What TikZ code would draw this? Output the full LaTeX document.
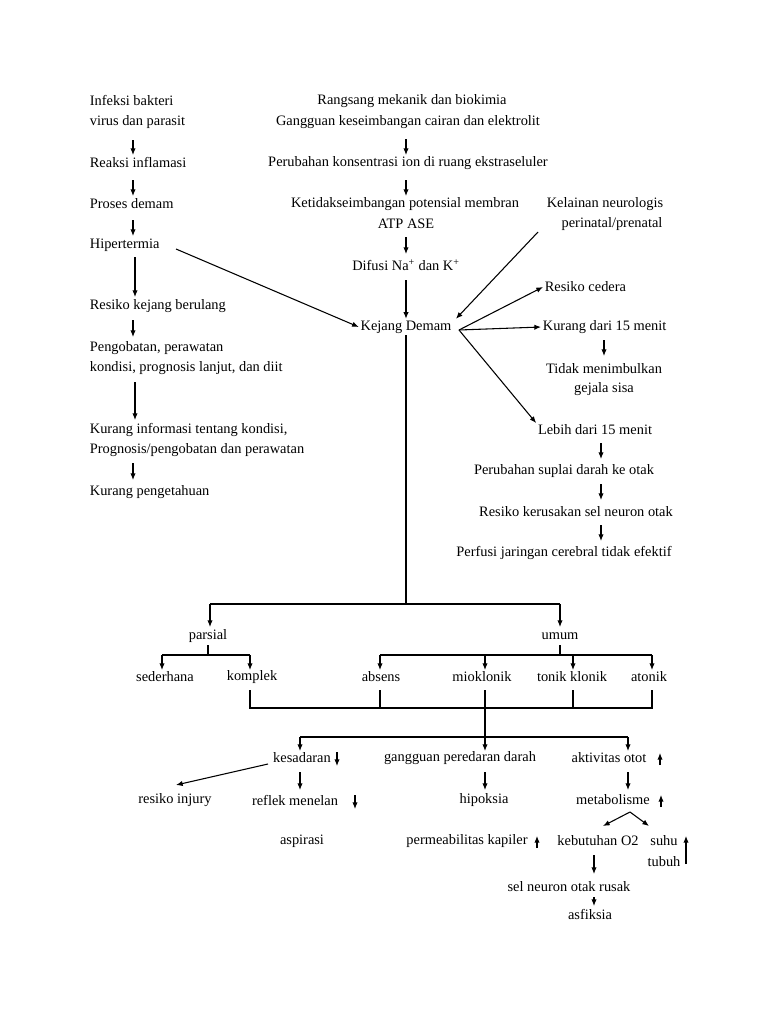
\documentclass[tikz,border=0pt]{standalone}
\usepackage{fontspec}
\setmainfont{Liberation Serif}
\usetikzlibrary{arrows.meta}

\begin{document}
\begin{tikzpicture}[x=0.75pt, y=-0.75pt, line width=0.8pt,
    txt/.style={inner sep=1pt, font=\fontsize{10.8}{13}\selectfont},
    lt/.style={txt, anchor=west},
    arr/.style={-{Latex[length=5pt,width=4pt]}}]

\useasboundingbox (0,0) rectangle (768,1024);

% Left column
\node[lt] (inf1) at (88,101) {Infeksi bakteri};
\node[lt] (inf2) at (88,122) {virus dan parasit};
\node[lt] (reak) at (88,163) {Reaksi inflamasi};
\node[lt] (pros) at (88,204) {Proses demam};
\node[lt] (hipr) at (88,245) {Hipertermia};
\node[lt] (rkej) at (88,306) {Resiko kejang berulang};
\node[lt] (peng1) at (88,348) {Pengobatan, perawatan};
\node[lt] (peng2) at (88,368) {kondisi, prognosis lanjut, dan diit};
\node[lt] (kinf1) at (88,430) {Kurang informasi tentang kondisi,};
\node[lt] (kinf2) at (88,450) {Prognosis/pengobatan dan perawatan};
\node[lt] (kpen) at (88,492) {Kurang pengetahuan};

\draw[arr] (133,140) -- (133,155);
\draw[arr] (133,180) -- (133,196);
\draw[arr] (133,220) -- (133,236);
\draw[arr] (135,257) -- (135,297);
\draw[arr] (133,320) -- (133,337);
\draw[arr] (135,382) -- (135,420);
\draw[arr] (133,463) -- (133,480);

% Centre column
\node[txt] (rang) at (412,101) {Rangsang mekanik dan biokimia};
\node[txt] (gang) at (408,122) {Gangguan keseimbangan cairan dan elektrolit};
\node[txt] (perk) at (408,163) {Perubahan konsentrasi ion di ruang ekstraseluler};
\node[txt] (ketd) at (405,204) {Ketidakseimbangan potensial membran};
\node[txt] (atp) at (406,224) {ATP ASE};
\node[txt] (difu) at (406,265) {Difusi Na\textsuperscript{+} dan K\textsuperscript{+}};
\node[txt] (kej) at (406,327) {Kejang Demam};

\draw[arr] (406,139) -- (406,155);
\draw[arr] (406,180) -- (406,196);
\draw[arr] (406,237) -- (406,254);
\draw[arr] (406,280) -- (kej.north);
\draw[arr] (176,249) -- (kej.west);

% Right column
\node[txt] (kel1) at (605,204) {Kelainan neurologis};
\node[txt] (kel2) at (612,224) {perinatal/prenatal};
\node[lt] (rced) at (543,287) {Resiko cedera};
\node[lt] (kur) at (541,327) {Kurang dari 15 menit};
\node[txt] (tid1) at (604,369) {Tidak menimbulkan};
\node[txt] (tid2) at (604,389) {gejala sisa};
\node[txt] (leb) at (595,430) {Lebih dari 15 menit};
\node[txt] (psup) at (564,471) {Perubahan suplai darah ke otak};
\node[txt] (rker) at (576,512) {Resiko kerusakan sel neuron otak};
\node[txt] (perf) at (564,553) {Perfusi jaringan cerebral tidak efektif};

\coordinate (kejr) at (459,330);
\draw[arr] (538,232) -- ([xshift=2pt]kej.north east);
\draw[arr] (kejr) -- (rced.west);
\draw[arr] (kejr) -- (kur.west);
\draw[arr] (kejr) -- (leb.north west);
\draw[arr] (604,340) -- (604,356);
\draw[arr] (601,443) -- (601,459);
\draw[arr] (601,484) -- (601,500);
\draw[arr] (601,525) -- (601,541);

% Classification
\node[txt] (pars) at (208,636) {parsial};
\node[txt] (umum) at (560,636) {umum};
\node[txt] (sede) at (165,677) {sederhana};
\node[txt] (komp) at (252,677) {komplek};
\node[txt] (abse) at (381,677) {absens};
\node[txt] (miok) at (482,677) {mioklonik};
\node[txt] (toni) at (572,677) {tonik klonik};
\node[txt] (aton) at (649,677) {atonik};

\draw (kej.south) -- (406,604) -- (210,604);
\draw (406,604) -- (560,604);
\draw[arr] (210,604) -- (210,627);
\draw[arr] (560,604) -- (560,627);
\draw (208,645) -- (208,655) (162,655) -- (250,655);
\draw[arr] (162,655) -- (162,670);
\draw[arr] (250,655) -- (250,670);
\draw (560,645) -- (560,655) (380,655) -- (652,655);
\foreach \xx in {380,485,573,652}
  \draw[arr] (\xx,655) -- (\xx,670);

\draw (250,690) -- (250,708) -- (652,708) -- (652,690);
\draw (380,690) -- (380,708) (573,690) -- (573,708);
\draw (485,690) -- (485,737);
\draw (300,737) -- (628,737);

% Effects
\node[txt] (kesa) at (302,758) {kesadaran};
\node[txt] (gper) at (460,758) {gangguan peredaran darah};
\node[txt] (akti) at (609,758) {aktivitas otot};
\node[txt] (rinj) at (175,800) {resiko injury};
\node[txt] (refl) at (295,800) {reflek menelan};
\node[txt] (hipo) at (484,800) {hipoksia};
\node[txt] (meta) at (613,800) {metabolisme};
\node[txt] (aspi) at (302,841) {aspirasi};
\node[txt] (perm) at (467,841) {permeabilitas kapiler};
\node[txt] (kebu) at (598,841) {kebutuhan O2};
\node[txt] (suhu) at (664,841) {suhu};
\node[txt] (tubu) at (664,862) {tubuh};
\node[txt] (seln) at (569,887) {sel neuron otak rusak};
\node[txt] (asfi) at (590,914) {asfiksia};

\draw[arr] (300,737) -- (300,751);
\draw[arr] (485,737) -- (485,751);
\draw[arr] (628,737) -- (628,751);
\draw[arr] (268,764) -- (176,785);
\draw[arr] (300,772) -- (300,790);
\draw[arr] (485,772) -- (485,790);
\draw[arr] (628,772) -- (628,790);
\draw[arr] (630,812) -- (603,826);
\draw[arr] (630,812) -- (649,826);
\draw[arr] (594,855) -- (594,874);
\draw[arr] (594,897) -- (594,906);

% Small up/down marks
\draw[arr] (337,752) -- (337,766);
\draw[arr] (355,795) -- (355,809);
\draw[arr] (660,765) -- (660,753);
\draw[arr] (661,807) -- (661,795);
\draw[arr] (537,848) -- (537,836);
\draw[arr] (686,864) -- (686,836);

\end{tikzpicture}
\end{document}
